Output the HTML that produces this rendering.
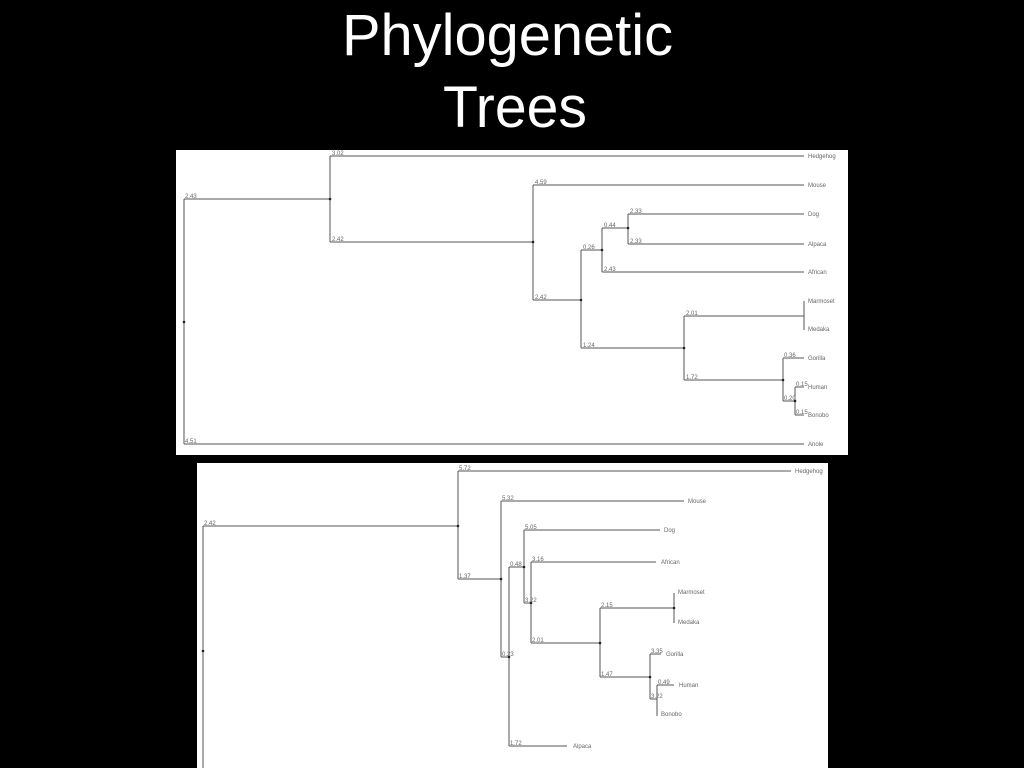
<!DOCTYPE html>
<html><head><style>
html,body{margin:0;padding:0;background:#000;width:1024px;height:768px;overflow:hidden}
svg{display:block}
</style></head><body>
<svg width="1024" height="768" viewBox="0 0 1024 768" xmlns="http://www.w3.org/2000/svg" font-family="Liberation Sans, sans-serif">
<rect width="1024" height="768" fill="#000"/>
<text x="342" y="55" font-size="58" fill="#fff" textLength="331" lengthAdjust="spacingAndGlyphs">Phylogenetic</text>
<text x="443" y="127" font-size="58" fill="#fff" textLength="144" lengthAdjust="spacingAndGlyphs">Trees</text>

<rect x="176" y="150" width="672" height="305" fill="#fff"/>
<g stroke="#555" stroke-width="1" fill="none">
<path d="M184 199V444 M184 199H330 M330 156V242 M330 156H804 M330 242H533 M533 185V300 M533 185H804 M533 300H581 M581 250V348 M581 250H602 M602 228V272 M602 228H628 M628 214V244 M628 214H804 M628 244H804 M602 272H804 M581 348H684 M684 316V380 M684 316H804 M804 301V330 M684 380H783 M783 358V401 M783 358H804 M783 401H795 M795 387V415 M795 387H804 M795 415H804 M184 444H804"/>
</g>
<g fill="#222"><circle cx="330" cy="199" r="1.3"/><circle cx="533" cy="242" r="1.3"/><circle cx="581" cy="300" r="1.3"/><circle cx="602" cy="250" r="1.3"/><circle cx="628" cy="228" r="1.3"/><circle cx="684" cy="348" r="1.3"/><circle cx="783" cy="380" r="1.3"/><circle cx="795" cy="401" r="1.3"/><circle cx="184" cy="322" r="1.3"/></g>
<g font-size="6" fill="#666">
<text x="808" y="158">Hedgehog</text><text x="808" y="187">Mouse</text><text x="808" y="216">Dog</text><text x="808" y="246">Alpaca</text><text x="808" y="274">African</text><text x="808" y="303">Marmoset</text><text x="808" y="331">Medaka</text><text x="808" y="360">Gorilla</text><text x="808" y="389">Human</text><text x="808" y="417">Bonobo</text><text x="808" y="446">Anole</text>
<text x="332" y="155">3.02</text><text x="185" y="198">2.43</text><text x="332" y="241">2.42</text><text x="535" y="184">4.59</text><text x="535" y="299">2.42</text><text x="583" y="249">0.26</text><text x="604" y="227">0.44</text><text x="630" y="213">2.33</text><text x="630" y="243">2.33</text><text x="604" y="271">2.43</text><text x="583" y="347">1.24</text><text x="686" y="315">2.01</text><text x="686" y="379">1.72</text><text x="784" y="357">0.36</text><text x="796" y="386">0.15</text><text x="784" y="400">0.20</text><text x="796" y="414">0.15</text><text x="185" y="443">4.51</text>
</g>

<rect x="197" y="463" width="631" height="305" fill="#fff"/>
<g stroke="#555" stroke-width="1" fill="none">
<path d="M203 526V768 M203 526H458 M458 471V579 M458 471H791 M458 579H501 M501 501V657 M501 501H684 M501 657H509 M509 567V746 M509 746H567 M509 567H524 M524 530V603 M524 530H660 M524 603H531 M531 562V643 M531 562H656 M531 643H600 M600 608V677 M600 608H674 M674 593V623 M600 677H650 M650 654V699 M650 654H661 M650 699H657 M657 685V716 M657 685H674"/>
</g>
<g fill="#222"><circle cx="458" cy="526" r="1.3"/><circle cx="501" cy="579" r="1.3"/><circle cx="509" cy="657" r="1.3"/><circle cx="524" cy="567" r="1.3"/><circle cx="531" cy="603" r="1.3"/><circle cx="600" cy="643" r="1.3"/><circle cx="674" cy="608" r="1.3"/><circle cx="650" cy="677" r="1.3"/><circle cx="203" cy="651" r="1.3"/></g>
<g font-size="6" fill="#666">
<text x="795" y="473">Hedgehog</text><text x="688" y="503">Mouse</text><text x="664" y="532">Dog</text><text x="661" y="564">African</text><text x="678" y="594">Marmoset</text><text x="678" y="624">Medaka</text><text x="666" y="656">Gorilla</text><text x="679" y="687">Human</text><text x="661" y="716">Bonobo</text><text x="573" y="748">Alpaca</text>
<text x="204" y="525">2.42</text><text x="459" y="470">5.72</text><text x="459" y="578">1.37</text><text x="502" y="500">5.32</text><text x="510" y="566">0.48</text><text x="502" y="656">0.23</text><text x="525" y="529">5.05</text><text x="532" y="561">3.16</text><text x="525" y="602">3.22</text><text x="532" y="642">2.01</text><text x="601" y="607">2.15</text><text x="601" y="676">1.47</text><text x="651" y="653">3.35</text><text x="658" y="684">0.49</text><text x="651" y="698">3.22</text><text x="510" y="745">1.72</text>
</g>
</svg>
</body></html>
